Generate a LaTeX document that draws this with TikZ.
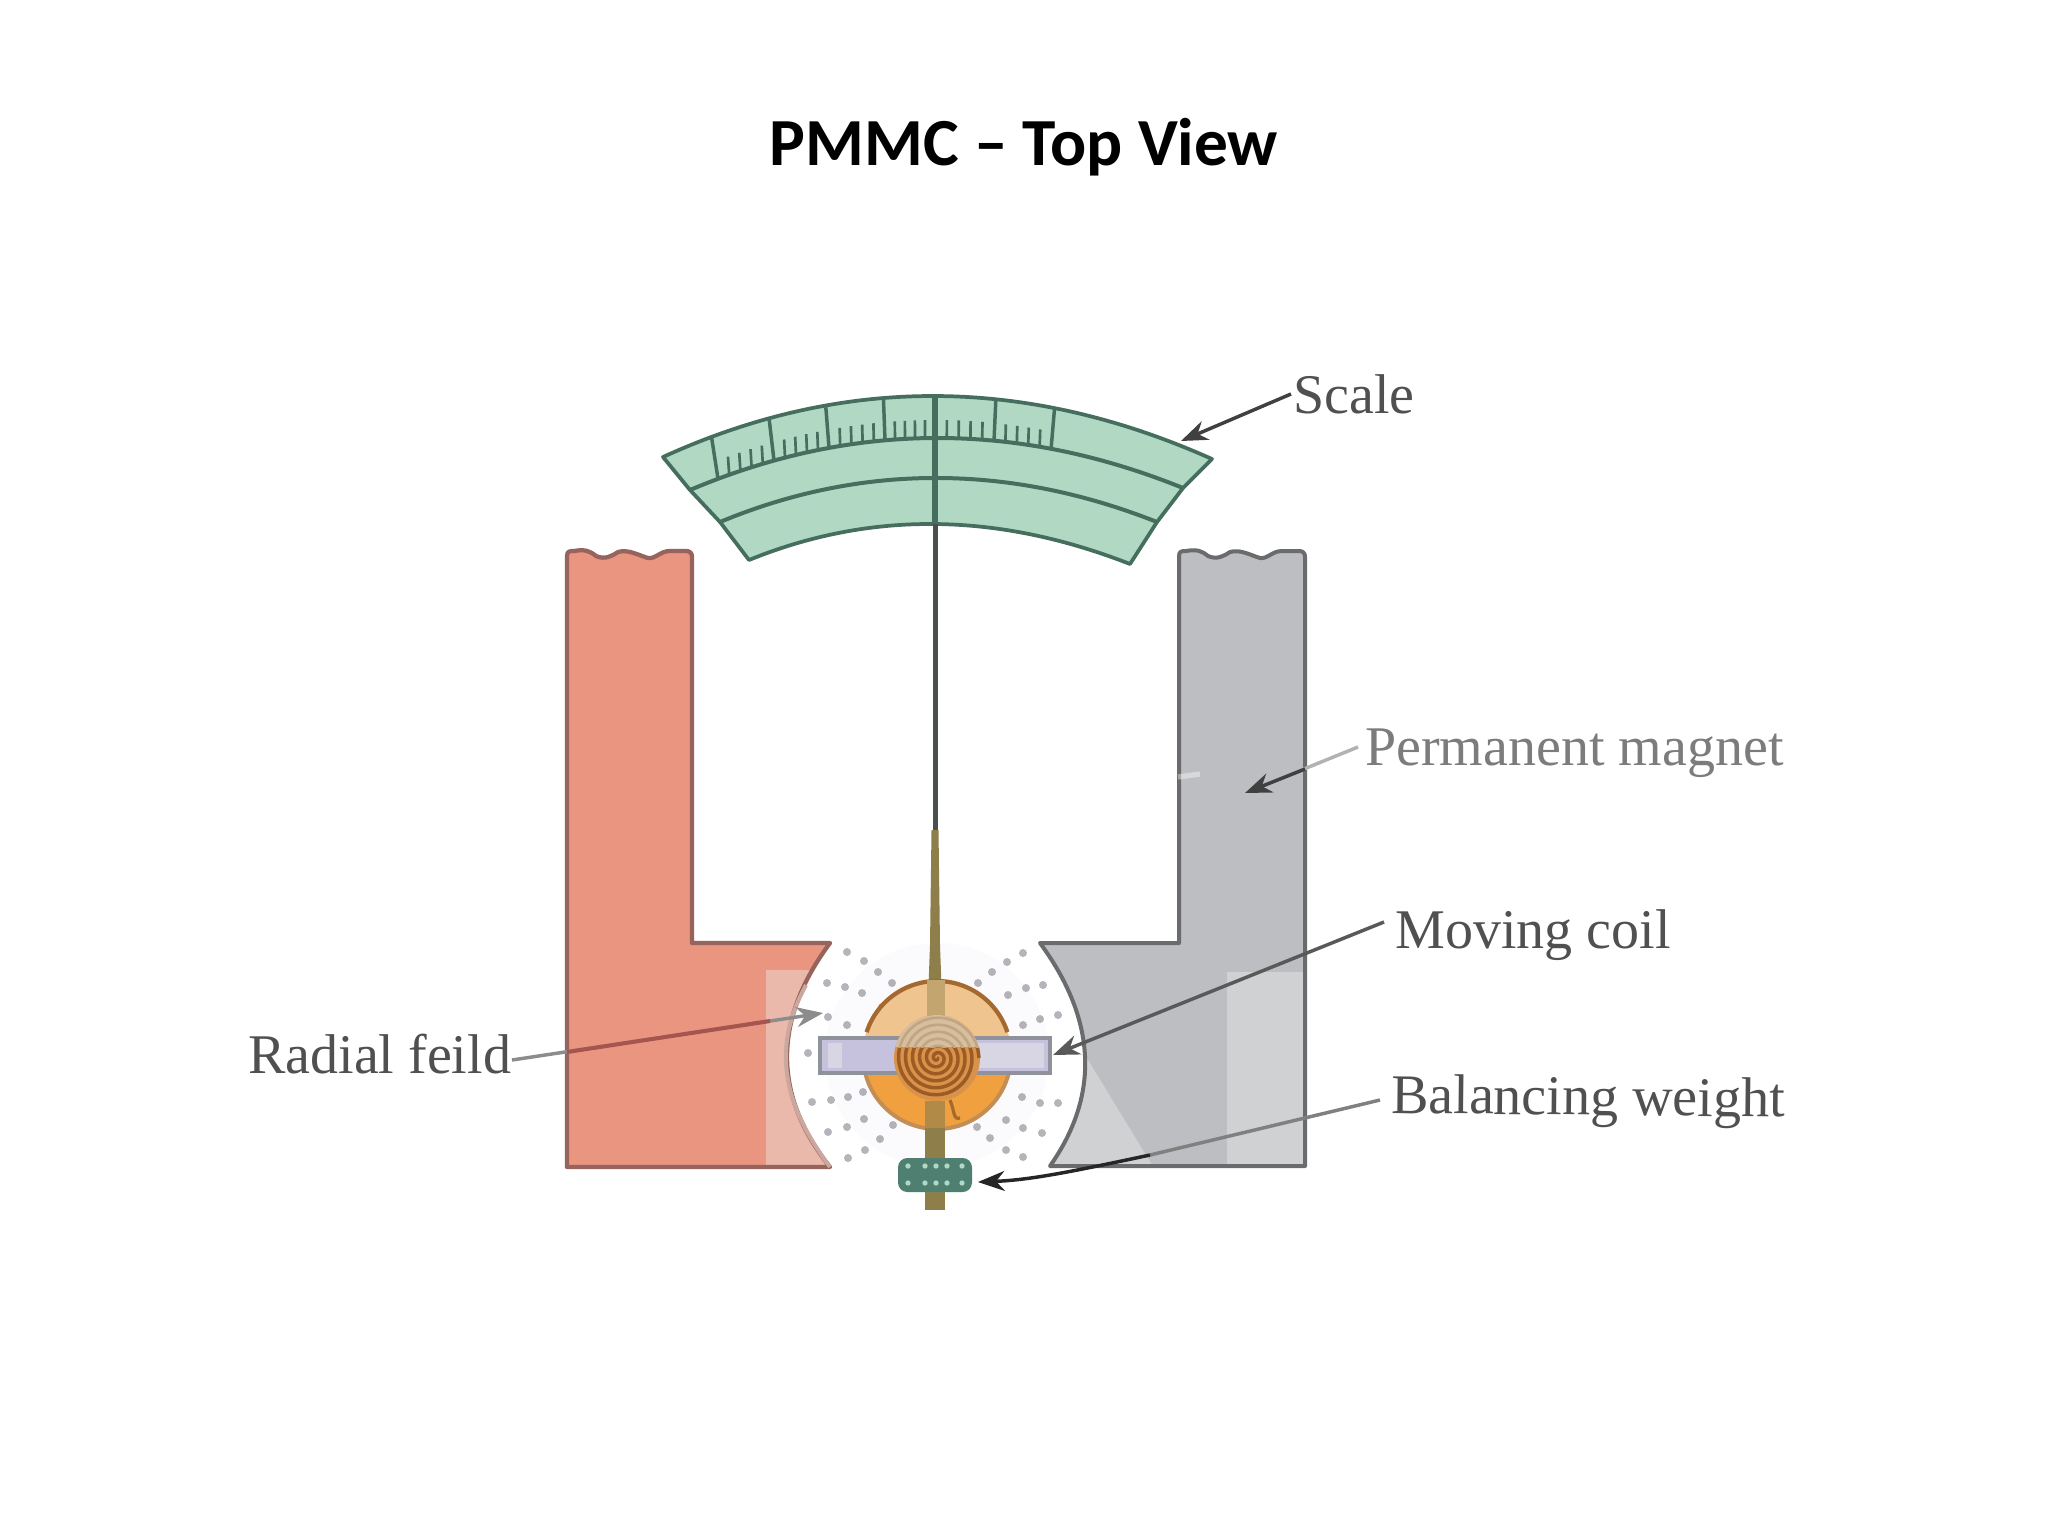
\documentclass[tikz,border=0pt]{standalone}
\usepackage{fontspec}
\setmainfont{Liberation Serif}
\newfontfamily\titlefont{Carlito}[BoldFont={Carlito Bold}]
\usetikzlibrary{arrows.meta}
\definecolor{redfill}{HTML}{E9957F}
\definecolor{redlight}{HTML}{EBB9AB}
\definecolor{redrim}{HTML}{96645C}
\definecolor{greyfill}{HTML}{BDBEC2}
\definecolor{greylight}{HTML}{CFD1D3}
\definecolor{greyrim}{HTML}{6A6B6C}
\definecolor{scalefill}{HTML}{B0D8C2}
\definecolor{scaleline}{HTML}{466E5E}
\definecolor{olive}{HTML}{8E7F4A}
\definecolor{hubtop}{HTML}{EFC48E}
\definecolor{hubbot}{HTML}{F0A03E}
\definecolor{hubrim}{HTML}{A5692F}
\definecolor{barfill}{HTML}{C6C2DE}
\definecolor{barpale}{HTML}{D8D6E2}
\definecolor{barrim}{HTML}{8F929A}
\definecolor{weightfill}{HTML}{4F7F70}
\definecolor{dotc}{HTML}{8F8C96}
\definecolor{lblc}{HTML}{505050}
\definecolor{fieldbg}{HTML}{FBFAFC}
\definecolor{spirtop}{HTML}{D6BE9E}
\definecolor{spirtopline}{HTML}{C2A684}
\definecolor{spirbot}{HTML}{D9924A}
\definecolor{spirbotline}{HTML}{9C5A24}
\definecolor{needlec}{HTML}{4A4F4D}
\tikzset{
  x=0.75pt,y=-0.75pt,
  magred/.style={fill=redfill,draw=redrim,line width=3.2pt,line join=round},
  maggrey/.style={fill=greyfill,draw=greyrim,line width=3pt,line join=round},
  scaleshape/.style={fill=scalefill,draw=scaleline,line width=2.8pt,line join=round},
  scalearc/.style={draw=scaleline,line width=3pt},
  majortick/.style={draw=scaleline,line width=2.6pt},
  minortick/.style={draw=scaleline,line width=2pt},
  lbl/.style={font=\fontsize{42}{50}\selectfont,text=lblc,anchor=base west,inner sep=0pt},
  leader/.style={draw=#1,line width=2.6pt},
  leadtip/.style={draw=#1,line width=2.6pt,-{Stealth[length=20pt,width=15pt]}},
  fielddot/.style={fill=dotc,draw=none,opacity=.65},
}
\begin{document}
\begin{tikzpicture}
\useasboundingbox (0,0) rectangle (2048,1536);
\fill[white] (0,0) rectangle (2048,1536);

\node[font=\titlefont\bfseries\fontsize{50.5}{60}\selectfont,text=black,inner sep=0pt] (title) at (1024,147) {PMMC – Top View};

% field background
\fill[fieldbg] (937,1055) circle[radius=112];

% left magnet
\def\leftmag{(567,556) .. controls (567,551) and (570,551) .. (574,551) .. controls (585,549) and (590,551) .. (596,556) .. controls (605,560) and (612,556) .. (618,552) .. controls (628,549) and (638,555) .. (648,558) .. controls (656,559) and (660,551) .. (670,551) -- (686,551) .. controls (690,551) and (692,553) .. (692,557) -- (692,943) -- (830,943) .. controls (772.7,1020) and (772.7,1095) .. (830,1167) -- (567,1167) -- cycle}
\fill[redfill] \leftmag;
\begin{scope}
  \clip \leftmag;
  \fill[redlight] (766,970) rectangle (840,1170);
\end{scope}
\draw[magred,fill=none] \leftmag;
\draw[draw=redlight!70!gray,line width=3pt] (806,985) .. controls (776,1040) and (776,1095) .. (830,1167);
% right magnet
\def\rightmag{(1179,556) .. controls (1179,551) and (1182,551) .. (1186,551) .. controls (1197,549) and (1202,551) .. (1208,556) .. controls (1217,560) and (1224,556) .. (1230,552) .. controls (1240,549) and (1250,555) .. (1260,558) .. controls (1268,559) and (1272,551) .. (1282,551) -- (1299,551) .. controls (1303,551) and (1305,553) .. (1305,557) -- (1305,1166) -- (1050,1166) .. controls (1100,1095) and (1096.7,1020) .. (1040,943) -- (1179,943) -- cycle}
\fill[greyfill] \rightmag;
\begin{scope}
  \clip \rightmag;
  \fill[greylight] (1227,972) rectangle (1310,1170);
  \fill[greylight] (1085,1055) -- (1155,1170) -- (1040,1170) -- cycle;
\end{scope}
\draw[maggrey,fill=none] \rightmag;
\draw[white,opacity=.4,line width=4pt] (1178,777) -- (1200,774);

% field dots
\foreach \px/\py in {847/952,864/961,878/972,892/983,827/983,845/987,862/993,882/1007,828/1017,847/1025,808/1053,
  812/1102,831/1100,848/1097,863/1092,828/1132,847/1127,864/1119,893/1125,848/1158,865/1150,880/1139,
  1023/953,1007/962,992/972,978/983,1043/985,1026/988,1008/995,1058/1015,1040/1019,1023/1025,
  1058/1103,1040/1103,1022/1097,1042/1133,1023/1128,1006/1120,1023/1157,1006/1150,990/1138,977/1127}
  \fill[fielddot] (\px,\py) circle (3pt);

% scale
\draw[scaleshape] (663,457) .. controls (842.7,375) and (1025.7,375.7) .. (1212,459) -- (1183,488) -- (1157,522) -- (1130,564) .. controls (997,512) and (870,510.7) .. (749,560) -- (720,522) -- (690,490) -- cycle;
\draw[scalearc] (690,490) .. controls (852.3,421.3) and (1016.7,420.7) .. (1183,488);
\draw[scalearc] (720,522) .. controls (861,463.3) and (1008.7,463.3) .. (1157,522);
\foreach \mx in {718,774,829,885,994,1051}{
  \pgfmathsetmacro{\lowy}{438+8.66*((\mx-935)/100)*((\mx-935)/100)}
  \pgfmathsetmacro{\upy}{398+8.23*((\mx-935)/100)*((\mx-935)/100)}
  \pgfmathsetmacro{\upx}{\mx+(\mx-935)*0.03}
  \draw[majortick] (\mx,\lowy) -- (\upx,\upy);
}
\foreach \startx/\stepx in {718/11.2,774/11,829/11.2,885/10,935/11.8,994/11.4}{
  \foreach \k in {1,2,3,4}{
    \pgfmathsetmacro{\tx}{\startx+\k*\stepx}
    \pgfmathsetmacro{\lowy}{438+8.66*((\tx-935)/100)*((\tx-935)/100)}
    \pgfmathsetmacro{\dx}{(\tx-935)*0.006}
    \draw[minortick] (\tx,\lowy) -- ++(\dx,-18);
  }
}

% needle
\fill[scaleline] (932,397) rectangle (938,524);
\fill[needlec] (932.5,524) rectangle (937.5,830);
\fill[olive] (931.5,830) -- (938.5,830) -- (940,945) -- (942,1000) -- (928,1000) -- (930,945) -- cycle;

% hub
\fill[hubbot] (937,1055) circle[radius=74];
\begin{scope}
  \clip (860,975) rectangle (1015,1056);
  \fill[hubtop] (937,1055) circle[radius=74];
\end{scope}
\draw[hubrim!60!hubtop,line width=3pt] (937,1055) ++(-167:74 and -74) arc[start angle=-167,end angle=-13,x radius=74,y radius=-74];
\draw[hubrim,line width=3.2pt] (937,1055) ++(162:74 and -74) arc[start angle=162,end angle=18,x radius=74,y radius=-74];
\fill[olive!45!hubtop] (927,980) rectangle (945,1030);

% coil bar
\fill[barfill,draw=barrim,line width=2.6pt] (820,1038) rectangle (1050,1073);
\fill[barpale] (828,1043) rectangle (842,1068);
\fill[barpale] (978,1043) rectangle (1044,1068);

% spiral
\fill[spirbot] (937,1058) circle[radius=43];
\begin{scope}
  \clip (937,1058) circle[radius=43];
  \fill[spirtop] (890,1010) rectangle (985,1047);
\end{scope}
\begin{scope}
  \clip (890,1047) rectangle (985,1110);
  \draw[spirbotline,line width=2.6pt,smooth] plot[domain=0:2160,samples=160,variable=\a] ({937+(\a/2160)*42*cos(\a)},{1058+(\a/2160)*42*sin(\a)});
\end{scope}
\begin{scope}
  \clip (890,1010) rectangle (985,1047);
  \draw[spirtopline,line width=2pt,smooth] plot[domain=0:2160,samples=160,variable=\a] ({937+(\a/2160)*42*cos(\a)},{1058+(\a/2160)*42*sin(\a)});
\end{scope}

% stem and weight
\fill[olive!65!hubbot] (925,1101) rectangle (945,1128);
\draw[hubrim,line width=2.4pt] (950,1100) .. controls (955,1112) and (953,1120) .. (960,1118);
\fill[olive] (925,1128) rectangle (945,1210);
\fill[weightfill,rounded corners=7pt] (898,1158) rectangle (972,1192);
\foreach \wy in {1166,1183}{
  \foreach \wx in {908,925,936,947,962}{
    \fill[scalefill] (\wx,\wy) circle (2pt);
  }
}

% labels
\node[lbl] (lblScale) at (1293,413) {Scale};
\node[lbl,text=lblc!75!white] (lblPerm) at (1365,765) {Permanent magnet};
\node[lbl] (lblCoil) at (1395,948) {Moving coil};
\node[lbl,rotate=-0.6] (lblWeight) at (1391,1113) {Balancing weight};
\node[lbl] (lblRadial) at (248,1073) {Radial feild};

\coordinate (tipScale) at (1181,441);
\coordinate (tipPerm) at (1245,793);
\coordinate (tipCoil) at (1053,1055);
\coordinate (tipWeight) at (978,1182);
\coordinate (tipRadial) at (823,1013);
\coordinate (startScale) at (1291,394);
\coordinate (startPerm) at (1358,747);
\coordinate (startCoil) at (1384,922);
\coordinate (startWeight) at (1380,1100);
\coordinate (startRadial) at (512,1060);
\coordinate (permMid) at (1305,769);
\coordinate (radA) at (567,1052);
\coordinate (radB) at (770,1021);
\coordinate (weightMid) at (1150,1155);

\draw[leadtip=black!75] (startScale) -- (tipScale);
\draw[leadtip=black!30] (startPerm) -- (tipPerm);
\draw[leadtip=black!75] (permMid) -- (tipPerm);
\draw[leadtip=black!65] (startCoil) -- (tipCoil);
\draw[leader=black!50] (startWeight) -- (weightMid);
\draw[leadtip=black!85] (weightMid) .. controls (1070,1172) and (1030,1180) .. (tipWeight);
\draw[leadtip=black!45] (startRadial) -- (tipRadial);
\draw[draw=redrim!85!red,line width=3pt] (radA) -- (radB);
\end{tikzpicture}
\end{document}
